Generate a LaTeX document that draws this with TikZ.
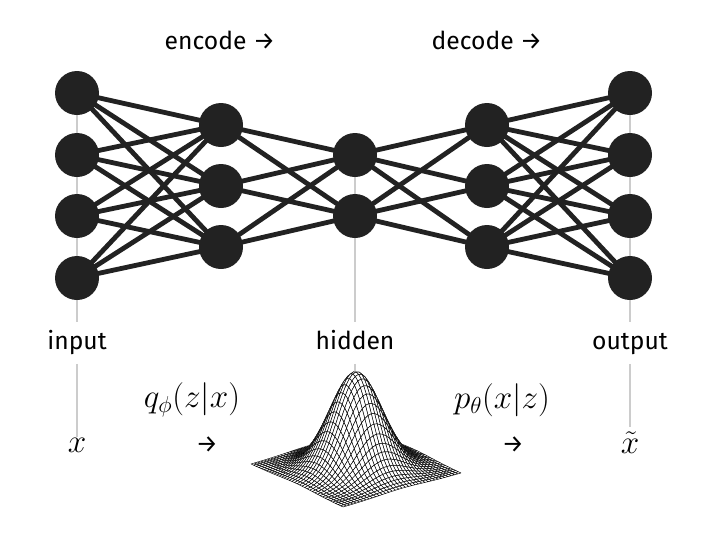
\documentclass[tikz,border=0pt]{standalone}
\usepackage[no-math]{fontspec}
\newfontfamily\labelfont{Fira Sans}
\usetikzlibrary{backgrounds}
\DeclareMathSizes{24.88}{24.88}{17.28}{12}
\definecolor{neuron}{HTML}{222222}
\definecolor{guide}{HTML}{CCCCCC}

\begin{document}
\begin{tikzpicture}[x=0.75pt,y=-0.75pt,
	unit/.style={circle,fill=neuron,minimum size=33pt,inner sep=0pt},
	wire/.style={neuron,line width=3.6pt},
	guideline/.style={guide,line width=1.3pt},
	layername/.style={font=\labelfont\fontsize{18.5}{20}\selectfont,text height=13pt,text depth=4pt,inner ysep=7pt},
	mathlabel/.style={font=\fontsize{24.88}{30}\selectfont},
	meshcell/.style={fill=white,draw=black,line width=0.35pt,line join=round},
	declare function={bump(\s,\t)=96.5*exp(-(\s*\s+\t*\t)/0.25);}]
	\useasboundingbox (0,0) rectangle (720,557);
	
	% draw nodes
	\foreach \n/\y in {1/93,2/155,3/216,4/278} \node[unit] (in\n) at (77,\y) {};
	\foreach \n/\y in {1/125,2/186,3/247} \node[unit] (enc\n) at (221,\y) {};
	\foreach \n/\y in {1/155,2/216} \node[unit] (hid\n) at (355,\y) {};
	\foreach \n/\y in {1/125,2/186,3/247} \node[unit] (dec\n) at (487,\y) {};
	\foreach \n/\y in {1/93,2/155,3/216,4/278} \node[unit] (out\n) at (630,\y) {};
	
	% layer names
	\node[layername] (enclabel) at (220,43) {encode →};
	\node[layername] (declabel) at (487,43) {decode →};
	\node[layername] (inlabel) at (77,343) {input};
	\node[layername] (hidlabel) at (355,343) {hidden};
	\node[layername] (outlabel) at (630,343) {output};
	
	% maths
	\node[mathlabel] (x) at (77,445) {$x$};
	\node[mathlabel] (xhat) at (630,443) {$\tilde{x}$};
	\node[mathlabel] (qenc) at (192,400) {$q_\phi(z|x)$};
	\node[mathlabel] (pdec) at (502,400) {$p_\theta(x|z)$};
	\node[layername] (encarrow) at (207,446) {→};
	\node[layername] (decarrow) at (513,446) {→};
	
	% draw gaussian
	\begin{scope}[shift={(356,468.5)},x={(34.5pt,-16.125pt)},y={(44.25pt,12.75pt)},z={(0pt,0.75pt)}]
		\foreach \i in {0,...,35}{
			\foreach \j in {35,...,0}{
				\pgfmathsetmacro\sa{-1+\i/18}
				\pgfmathsetmacro\sb{\sa+1/18}
				\pgfmathsetmacro\ta{-1+\j/18}
				\pgfmathsetmacro\tb{\ta+1/18}
				\filldraw[meshcell] (\sa,\ta,{bump(\sa,\ta)}) -- (\sb,\ta,{bump(\sb,\ta)})
					-- (\sb,\tb,{bump(\sb,\tb)}) -- (\sa,\tb,{bump(\sa,\tb)}) -- cycle;
			}
		}
		\coordinate (peak) at (0,0,96.5);
	\end{scope}
	
	\begin{scope}[on background layer]
		% draw guide lines
		\draw[guideline] (in1.center) -- (inlabel.north);
		\draw[guideline] (inlabel.south) -- ([yshift=-3pt]x.north);
		\draw[guideline] (hid1.center) -- (hidlabel.north);
		\draw[guideline] (hidlabel.south) -- (hidlabel.south |- peak);
		\draw[guideline] (out1.center) -- (outlabel.north);
		\draw[guideline] (outlabel.south) -- (xhat.north);
		
		% draw wires
		\foreach \a in {1,...,4} \foreach \b in {1,...,3} \draw[wire] (in\a.center) -- (enc\b.center);
		\foreach \a in {1,...,3} \foreach \b in {1,2} \draw[wire] (enc\a.center) -- (hid\b.center);
		\foreach \a in {1,2} \foreach \b in {1,...,3} \draw[wire] (hid\a.center) -- (dec\b.center);
		\foreach \a in {1,...,3} \foreach \b in {1,...,4} \draw[wire] (dec\a.center) -- (out\b.center);
	\end{scope}
\end{tikzpicture}
\end{document}
